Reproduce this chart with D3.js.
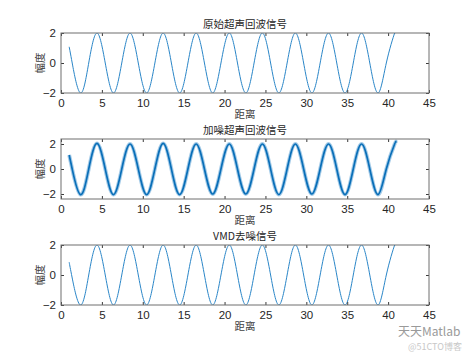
<!DOCTYPE html>
<html>
<head>
<meta charset="utf-8">
<script src="https://cdn.jsdelivr.net/npm/d3@7"></script>
<style>
  body { margin: 0; background: #fff; }
  svg text { font-family: "Liberation Sans", Arial, sans-serif; }
  .cjk { font-family: "Noto Sans CJK SC", sans-serif; }
</style>
</head>
<body>
<div id="chart"></div>
<script>
// key points: start, zero crossings, troughs and peaks
const distance = [1.00, 1.37, 2.38, 3.39, 4.40, 5.41, 6.42, 7.43, 8.44, 9.45, 10.47, 11.48, 12.49, 13.50,
  14.51, 15.52, 16.53, 17.54, 18.55, 19.56, 20.58, 21.58, 22.60, 23.61, 24.62, 25.63, 26.64, 27.65,
  28.66, 29.67, 30.68, 31.69, 32.71, 33.72, 34.73, 35.74, 36.75, 37.76, 38.77, 39.78, 40.80, 40.90];
const originalAmp = [1.08, 0, -2, 0, 2, 0, -2, 0, 2, 0, -2, 0, 2, 0, -2, 0, 2, 0, -2, 0, 2, 0, -2, 0, 2, 0,
  -2, 0, 2, 0, -2, 0, 2, 0, -2, 0, 2, 0, -2, 0, 2, 1.99];
const noisyAmp = [1.12, 0, -2.05, 0, 2.05, 0, -2.05, 0, 2.0, 0, -2.05, 0, 2.05, 0, -2.05, 0, 2.0, 0, -2.0, 0,
  2.0, 0, -2.0, 0, 2.0, 0, -2.05, 0, 2.0, 0, -2.0, 0, 2.0, 0, -2.05, 0, 2.0, 0, -2.05, 0, 2.0, 2.1];
const vmdAmp = [0.85, -0.2, -2, 0, 2, 0, -2, 0, 2, 0, -2, 0, 2, 0, -2, 0, 2, 0, -2, 0, 2, 0, -2, 0, 2, 0,
  -2, 0, 2, 0, -2, 0, 2, 0, -2, 0, 2, 0, -2, 0, 2, 1.99];

const xTicks = [0, 5, 10, 15, 20, 25, 30, 35, 40, 45];
const yTicks = [-2, 0, 2];

const panels = [
  { title: "原始超声回波信号", amp: originalAmp, top: 33, yDomain: [-2, 2], noisy: false },
  { title: "加噪超声回波信号", amp: noisyAmp, top: 139, yDomain: [-2.4, 2.4], noisy: true },
  { title: "VMD去噪信号", amp: vmdAmp, top: 245, yDomain: [-2, 2], noisy: false }
];

const W = 474, H = 355, left = 61, right = 429, ph = 60;

const svg = d3.select("#chart").append("svg").attr("width", W).attr("height", H);
const x = d3.scaleLinear().domain([0, 45]).range([left, right]);

panels.forEach(p => {
  const y = d3.scaleLinear().domain(p.yDomain).range([p.top + ph, p.top]);
  const g = svg.append("g");

  const clipId = "clip" + p.top;
  g.append("clipPath").attr("id", clipId).append("rect")
    .attr("x", left).attr("y", p.top).attr("width", right - left).attr("height", ph);

  const line = d3.line().x((d, i) => x(distance[i])).y(d => y(d)).curve(d3.curveNatural);
  if (p.noisy) {
    // noise band drawn as a soft halo round a darker core
    g.append("path").datum(p.amp).attr("clip-path", `url(#${clipId})`)
      .attr("fill", "none").attr("stroke", "#4a97d2").attr("stroke-opacity", 0.5)
      .attr("stroke-width", 3.8).attr("d", line);
    g.append("path").datum(p.amp).attr("clip-path", `url(#${clipId})`)
      .attr("fill", "none").attr("stroke", "#0a6fb8").attr("stroke-width", 1.7).attr("d", line);
  } else {
    g.append("path").datum(p.amp).attr("clip-path", `url(#${clipId})`)
      .attr("fill", "none").attr("stroke", "#2a86c8").attr("stroke-width", 1).attr("d", line);
  }

  g.append("g").attr("transform", `translate(0,${p.top + ph})`)
    .call(d3.axisBottom(x).tickValues(xTicks).tickSizeInner(-3).tickSizeOuter(0).tickPadding(6).tickFormat(d3.format("d")))
    .call(a => a.select(".domain").remove());
  g.append("g").attr("transform", `translate(0,${p.top})`)
    .call(d3.axisTop(x).tickValues(xTicks).tickSizeInner(-3).tickSizeOuter(0).tickFormat(""))
    .call(a => a.select(".domain").remove());
  g.append("g").attr("transform", `translate(${left},0)`)
    .call(d3.axisLeft(y).tickValues(yTicks).tickSizeInner(-3).tickSizeOuter(0).tickPadding(5).tickFormat(d3.format("d")))
    .call(a => a.select(".domain").remove());
  g.append("g").attr("transform", `translate(${right},0)`)
    .call(d3.axisRight(y).tickValues(yTicks).tickSizeInner(-3).tickSizeOuter(0).tickFormat(""))
    .call(a => a.select(".domain").remove());
  g.selectAll(".tick line").attr("stroke", "#3a3a3a");
  g.selectAll(".tick text").attr("fill", "#262626").style("font-size", "11.5px");

  g.append("rect").attr("x", left).attr("y", p.top).attr("width", right - left).attr("height", ph)
    .attr("fill", "none").attr("stroke", "#6e6e6e").attr("stroke-width", 1);

  g.append("text").attr("class", "cjk").attr("x", (left + right) / 2).attr("y", p.top - 5)
    .attr("text-anchor", "middle").attr("fill", "#262626").style("font-size", "10.5px").text(p.title);
  g.append("text").attr("class", "cjk").attr("x", (left + right) / 2).attr("y", p.top + ph + 25)
    .attr("text-anchor", "middle").attr("fill", "#404040").style("font-size", "10.5px").text("距离");
  g.append("text").attr("class", "cjk")
    .attr("transform", `translate(44,${p.top + ph / 2}) rotate(-90)`)
    .attr("text-anchor", "middle").attr("fill", "#404040").style("font-size", "10.5px").text("幅度");
});

// watermark
svg.append("text").attr("class", "cjk").attr("x", 398).attr("y", 336).attr("fill", "#9a9a9a")
  .style("font-size", "12px").text("天天Matlab");
svg.append("text").attr("class", "cjk").attr("x", 408).attr("y", 350).attr("fill", "#c8c8c8")
  .style("font-size", "9px").text("@51CTO博客");
</script>
</body>
</html>
